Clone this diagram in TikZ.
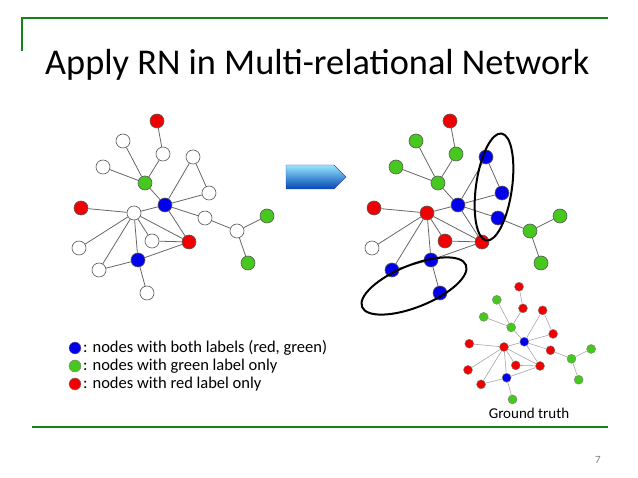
\documentclass[tikz,border=0pt]{standalone}
\usepackage{fontspec}
\setmainfont{Carlito}
\usetikzlibrary{shapes.arrows}
\definecolor{nred}{RGB}{240,0,0}
\definecolor{ngreen}{RGB}{70,200,30}
\definecolor{nblue}{RGB}{0,0,235}
\definecolor{nwhite}{RGB}{255,255,255}
\definecolor{barg}{RGB}{20,130,20}
\tikzset{
  nd/.style={circle,draw=gray!70!black,line width=0.6pt,minimum size=14pt,inner sep=0pt},
  gt/.style={circle,draw=gray,line width=0.4pt,minimum size=9pt,inner sep=0pt},
  ed/.style={draw=gray!80!black,line width=0.8pt},
  ged/.style={draw=gray!70,line width=0.6pt},
  grp/.style={draw=black,line width=2pt},
  bar/.style={draw=barg,line width=2.2pt},
}
\def\edges{a/c,c/e,b/e,d/e,e/h,h/f,f/g,g/h,h/j,i/j,h/k,k/l,l/m,l/s,h/p,j/n,j/r,j/q,j/o,j/p,o/p,q/p,r/q,q/t}
\begin{document}
\begin{tikzpicture}[x=1pt,y=-1pt]
\useasboundingbox (0,0) rectangle (638,478);
% bars
\draw[bar] (22,51) -- (22,18) -- (608,18);
\draw[bar] (32,427) -- (608,427);
\node[anchor=base west,font=\fontsize{36.3}{40}\selectfont,inner sep=0] (title) at (45,75) {Apply RN in Multi-relational Network};
% left graph
\foreach \n/\x/\y/\c in {a/157/121/nred,b/123/141/nwhite,c/163/154/nwhite,d/103/167/nwhite,e/145/183/ngreen,f/193/157/nwhite,g/209/193/nwhite,h/165/205/nblue,i/81/208/nred,j/134/213/nwhite,k/205/218/nwhite,l/237/231/nwhite,m/267/216/ngreen,n/79/248/nwhite,o/152/241/nwhite,p/189/242/nred,q/138/260/nblue,r/99/270/nwhite,s/248/263/ngreen,t/147/293/nwhite}
  \node[nd,fill=\c] (L\n) at (\x,\y) {};
\foreach \u/\v in \edges \path[ed] (L\u) -- (L\v);
% right graph
\foreach \n/\x/\y/\c in {a/157/121/nred,b/123/141/ngreen,c/163/154/ngreen,d/103/167/ngreen,e/145/183/ngreen,f/193/157/nblue,g/209/193/nblue,h/165/205/nblue,i/81/208/nred,j/134/213/nred,k/205/218/nblue,l/237/231/ngreen,m/267/216/ngreen,n/79/248/nwhite,o/152/241/nred,p/189/242/nred,q/138/260/nblue,r/99/270/nblue,s/248/263/ngreen,t/147/293/nblue}
  \node[nd,fill=\c] (R\n) at (\x+293,\y) {};
\foreach \u/\v in \edges \path[ed] (R\u) -- (R\v);
\draw[grp] (494,187) ellipse [x radius=18, y radius=54, rotate=-8];
\draw[grp] (414,286) ellipse [x radius=56, y radius=21, rotate=22];
% ground truth
\foreach \n/\x/\y/\c in {a/157/121/nred,b/123/141/ngreen,c/163/154/nred,d/103/167/ngreen,e/145/183/ngreen,f/193/157/nred,g/209/193/nred,h/165/205/nblue,i/81/208/nred,j/134/213/nred,k/205/218/nred,l/237/231/ngreen,m/267/216/ngreen,n/79/248/nred,o/152/241/nred,p/189/242/nred,q/138/260/nblue,r/99/270/nred,s/248/263/ngreen,t/147/293/ngreen}
  \node[gt,fill=\c] (G\n) at ({504+0.655*(\x-134)},{347+0.655*(\y-213)}) {};
\foreach \u/\v in \edges \path[ged] (G\u) -- (G\v);
\node[font=\fontsize{15}{17}\selectfont] (gtl) at (529,413) {Ground truth};
% arrow
\node[single arrow,draw=blue!50!gray,top color=blue!25!cyan!40,bottom color=blue!60!cyan!70!black,
  minimum height=60pt,minimum width=24pt,single arrow head extend=0pt,inner sep=0pt] (arr) at (310,177) {};
% legend
\foreach \c/\y/\t [count=\i] in {nblue/348/nodes with both labels (red{,} green),ngreen/366/nodes with green label only,nred/384/nodes with red label only}{
  \node[circle,draw=gray,fill=\c,minimum size=12pt,inner sep=0] (k\i) at (75,\y) {};
  \node[anchor=west,font=\fontsize{16.5}{18}\selectfont,inner sep=0] (t\i) at (83,\y) {: \t};
}
\node[font=\fontsize{11}{12}\selectfont,text=gray] (pg) at (598,460) {7};
\end{tikzpicture}
\end{document}
